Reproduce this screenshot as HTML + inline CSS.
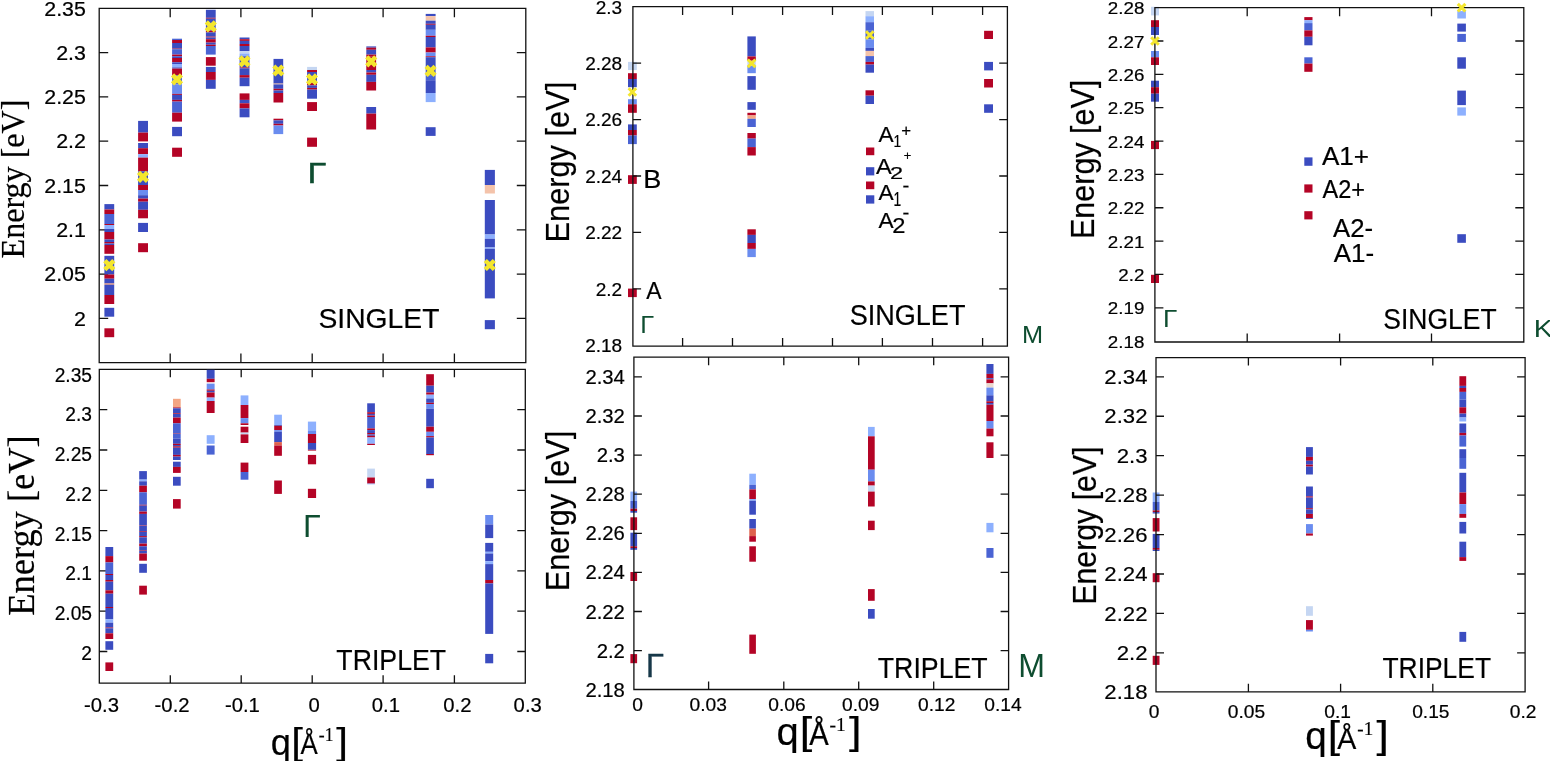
<!DOCTYPE html>
<html><head><meta charset="utf-8"><title>Singlet/Triplet exciton dispersion</title>
<style>html,body{margin:0;padding:0;background:#fff;}svg{display:block;}</style></head>
<body><svg width="1550" height="761" viewBox="0 0 1550 761" shape-rendering="auto">
<rect width="1550" height="761" fill="#fff"/>
<g stroke="#000" stroke-width="0.2">
<path d="M99.2,8.3H525.8V362.6H99.2ZM170.2,8.3v9M170.2,362.6v-9M240.9,8.3v9M240.9,362.6v-9M312.2,8.3v9M312.2,362.6v-9M383.1,8.3v9M383.1,362.6v-9M454.4,8.3v9M454.4,362.6v-9M99.2,52.6h9M525.8,52.6h-9M99.2,96.9h9M525.8,96.9h-9M99.2,141.2h9M525.8,141.2h-9M99.2,185.5h9M525.8,185.5h-9M99.2,229.8h9M525.8,229.8h-9M99.2,274.1h9M525.8,274.1h-9M99.2,318.4h9M525.8,318.4h-9" stroke="#111" stroke-width="1.3" fill="none"/>
<rect x="104.4" y="204.1" width="9.8" height="5.4" fill="#3b4cc0" stroke="none"/>
<rect x="104.4" y="209.5" width="9.8" height="4.5" fill="#b40426" stroke="none"/>
<rect x="104.4" y="214" width="9.8" height="10" fill="#4a63d3" stroke="none"/>
<rect x="104.4" y="224" width="9.8" height="1" fill="#b40426" stroke="none"/>
<rect x="104.4" y="225" width="9.8" height="4" fill="#8db0fe" stroke="none"/>
<rect x="104.4" y="229" width="9.8" height="3" fill="#3b4cc0" stroke="none"/>
<rect x="104.4" y="232" width="9.8" height="7.5" fill="#b40426" stroke="none"/>
<rect x="104.4" y="239.5" width="9.8" height="2.5" fill="#3b4cc0" stroke="none"/>
<rect x="104.4" y="242" width="9.8" height="1.5" fill="#b40426" stroke="none"/>
<rect x="104.4" y="243.5" width="9.8" height="1.5" fill="#3b4cc0" stroke="none"/>
<rect x="104.4" y="245" width="9.8" height="8.8" fill="#b40426" stroke="none"/>
<rect x="104.4" y="255.8" width="9.8" height="18.7" fill="#3b4cc0" stroke="none"/>
<rect x="104.4" y="274.5" width="9.8" height="4.2" fill="#b40426" stroke="none"/>
<rect x="104.4" y="278.7" width="9.8" height="4.8" fill="#3b4cc0" stroke="none"/>
<rect x="104.4" y="283.5" width="9.8" height="1.2" fill="#ef8a62" stroke="none"/>
<rect x="104.4" y="284.7" width="9.8" height="10.3" fill="#3b4cc0" stroke="none"/>
<rect x="104.4" y="295" width="9.8" height="9" fill="#b40426" stroke="none"/>
<rect x="104.4" y="307.8" width="9.8" height="8.9" fill="#3b4cc0" stroke="none"/>
<rect x="104.4" y="328.3" width="9.8" height="8.9" fill="#b40426" stroke="none"/>
<rect x="138.1" y="120.9" width="9.9" height="11.7" fill="#3b4cc0" stroke="none"/>
<rect x="138.1" y="132.6" width="9.9" height="8.8" fill="#b40426" stroke="none"/>
<rect x="138.1" y="143" width="9.9" height="5.2" fill="#3b4cc0" stroke="none"/>
<rect x="138.1" y="148.2" width="9.9" height="6" fill="#b40426" stroke="none"/>
<rect x="138.1" y="154.2" width="9.9" height="3.4" fill="#8db0fe" stroke="none"/>
<rect x="138.1" y="157.6" width="9.9" height="13.7" fill="#b40426" stroke="none"/>
<rect x="138.1" y="171.3" width="9.9" height="13.7" fill="#3b4cc0" stroke="none"/>
<rect x="138.1" y="185" width="9.9" height="5" fill="#b40426" stroke="none"/>
<rect x="138.1" y="190" width="9.9" height="5.2" fill="#6a8cef" stroke="none"/>
<rect x="138.1" y="195.2" width="9.9" height="3.4" fill="#3b4cc0" stroke="none"/>
<rect x="138.1" y="198.6" width="9.9" height="3.1" fill="#b40426" stroke="none"/>
<rect x="138.1" y="201.7" width="9.9" height="8.1" fill="#3b4cc0" stroke="none"/>
<rect x="138.1" y="209.8" width="9.9" height="8.5" fill="#b40426" stroke="none"/>
<rect x="138.1" y="222.9" width="9.9" height="9.1" fill="#3b4cc0" stroke="none"/>
<rect x="138.1" y="243.2" width="9.9" height="9" fill="#b40426" stroke="none"/>
<rect x="172.1" y="38.7" width="9.9" height="1.3" fill="#4a63d3" stroke="none"/>
<rect x="172.1" y="40" width="9.9" height="3" fill="#b40426" stroke="none"/>
<rect x="172.1" y="43" width="9.9" height="5.6" fill="#3b4cc0" stroke="none"/>
<rect x="172.1" y="48.6" width="9.9" height="0.6" fill="#b40426" stroke="none"/>
<rect x="172.1" y="49.2" width="9.9" height="5.4" fill="#4a63d3" stroke="none"/>
<rect x="172.1" y="54.6" width="9.9" height="1.7" fill="#b40426" stroke="none"/>
<rect x="172.1" y="56.3" width="9.9" height="1.7" fill="#3b4cc0" stroke="none"/>
<rect x="172.1" y="58" width="9.9" height="4.3" fill="#b40426" stroke="none"/>
<rect x="172.1" y="62.3" width="9.9" height="1.7" fill="#3b4cc0" stroke="none"/>
<rect x="172.1" y="64" width="9.9" height="3.4" fill="#8db0fe" stroke="none"/>
<rect x="172.1" y="67.4" width="9.9" height="1.2" fill="#3b4cc0" stroke="none"/>
<rect x="172.1" y="68.6" width="9.9" height="6.5" fill="#b40426" stroke="none"/>
<rect x="172.1" y="75.1" width="9.9" height="9.4" fill="#4a63d3" stroke="none"/>
<rect x="172.1" y="84.5" width="9.9" height="9.4" fill="#6a8cef" stroke="none"/>
<rect x="172.1" y="93.9" width="9.9" height="1" fill="#b40426" stroke="none"/>
<rect x="172.1" y="94.9" width="9.9" height="5" fill="#3b4cc0" stroke="none"/>
<rect x="172.1" y="99.9" width="9.9" height="1.7" fill="#b40426" stroke="none"/>
<rect x="172.1" y="101.6" width="9.9" height="11.1" fill="#4a63d3" stroke="none"/>
<rect x="172.1" y="112.7" width="9.9" height="8.9" fill="#b40426" stroke="none"/>
<rect x="172.1" y="126.9" width="9.9" height="9.3" fill="#3b4cc0" stroke="none"/>
<rect x="172.1" y="147.7" width="9.9" height="9.1" fill="#b40426" stroke="none"/>
<rect x="205.9" y="9.8" width="9.8" height="8" fill="#3b4cc0" stroke="none"/>
<rect x="205.9" y="17.8" width="9.8" height="0.9" fill="#b40426" stroke="none"/>
<rect x="205.9" y="18.7" width="9.8" height="11.9" fill="#3b4cc0" stroke="none"/>
<rect x="205.9" y="30.6" width="9.8" height="1.8" fill="#b40426" stroke="none"/>
<rect x="205.9" y="32.4" width="9.8" height="4.2" fill="#3b4cc0" stroke="none"/>
<rect x="205.9" y="36.6" width="9.8" height="0.9" fill="#b40426" stroke="none"/>
<rect x="205.9" y="37.5" width="9.8" height="1.7" fill="#3b4cc0" stroke="none"/>
<rect x="205.9" y="39.2" width="9.8" height="3.4" fill="#b40426" stroke="none"/>
<rect x="205.9" y="42.6" width="9.8" height="2.1" fill="#3b4cc0" stroke="none"/>
<rect x="205.9" y="44.7" width="9.8" height="1.3" fill="#b40426" stroke="none"/>
<rect x="205.9" y="46" width="9.8" height="8.6" fill="#4a63d3" stroke="none"/>
<rect x="205.9" y="57.1" width="9.8" height="8.6" fill="#b40426" stroke="none"/>
<rect x="205.9" y="66.9" width="9.8" height="5.1" fill="#3b4cc0" stroke="none"/>
<rect x="205.9" y="72" width="9.8" height="7.9" fill="#b40426" stroke="none"/>
<rect x="205.9" y="79.9" width="9.8" height="8.9" fill="#3b4cc0" stroke="none"/>
<rect x="239.6" y="37.5" width="9.9" height="1.7" fill="#3b4cc0" stroke="none"/>
<rect x="239.6" y="39.2" width="9.9" height="1.7" fill="#b40426" stroke="none"/>
<rect x="239.6" y="40.9" width="9.9" height="3.1" fill="#3b4cc0" stroke="none"/>
<rect x="239.6" y="44" width="9.9" height="2" fill="#b40426" stroke="none"/>
<rect x="239.6" y="46" width="9.9" height="5.2" fill="#3b4cc0" stroke="none"/>
<rect x="239.6" y="51.2" width="9.9" height="2.3" fill="#c5d6f2" stroke="none"/>
<rect x="239.6" y="53.5" width="9.9" height="2.8" fill="#8db0fe" stroke="none"/>
<rect x="239.6" y="56.3" width="9.9" height="11.1" fill="#3b4cc0" stroke="none"/>
<rect x="239.6" y="67.4" width="9.9" height="0.9" fill="#b40426" stroke="none"/>
<rect x="239.6" y="68.3" width="9.9" height="6.8" fill="#3b4cc0" stroke="none"/>
<rect x="239.6" y="75.1" width="9.9" height="2.6" fill="#b40426" stroke="none"/>
<rect x="239.6" y="77.7" width="9.9" height="8.5" fill="#3b4cc0" stroke="none"/>
<rect x="239.6" y="93.4" width="9.9" height="6.5" fill="#b40426" stroke="none"/>
<rect x="239.6" y="99.9" width="9.9" height="3.4" fill="#3b4cc0" stroke="none"/>
<rect x="239.6" y="103.3" width="9.9" height="5.1" fill="#b40426" stroke="none"/>
<rect x="239.6" y="108.4" width="9.9" height="8.9" fill="#3b4cc0" stroke="none"/>
<rect x="273.5" y="58.9" width="9.7" height="24.7" fill="#3b4cc0" stroke="none"/>
<rect x="273.5" y="83.6" width="9.7" height="0.8" fill="#f3a583" stroke="none"/>
<rect x="273.5" y="84.4" width="9.7" height="4.4" fill="#3b4cc0" stroke="none"/>
<rect x="273.5" y="88.8" width="9.7" height="1.7" fill="#b40426" stroke="none"/>
<rect x="273.5" y="90.5" width="9.7" height="2.5" fill="#3b4cc0" stroke="none"/>
<rect x="273.5" y="93" width="9.7" height="9.5" fill="#b40426" stroke="none"/>
<rect x="273.5" y="118.7" width="9.7" height="1.7" fill="#b40426" stroke="none"/>
<rect x="273.5" y="120.4" width="9.7" height="3.4" fill="#3b4cc0" stroke="none"/>
<rect x="273.5" y="123.8" width="9.7" height="1.7" fill="#b40426" stroke="none"/>
<rect x="273.5" y="125.5" width="9.7" height="8.6" fill="#6a8cef" stroke="none"/>
<rect x="307.1" y="66.9" width="9.9" height="3.1" fill="#c5d6f2" stroke="none"/>
<rect x="307.1" y="70" width="9.9" height="2" fill="#b40426" stroke="none"/>
<rect x="307.1" y="72" width="9.9" height="10.8" fill="#3b4cc0" stroke="none"/>
<rect x="307.1" y="82.8" width="9.9" height="2.6" fill="#b40426" stroke="none"/>
<rect x="307.1" y="85.4" width="9.9" height="2.5" fill="#3b4cc0" stroke="none"/>
<rect x="307.1" y="87.9" width="9.9" height="1.7" fill="#b40426" stroke="none"/>
<rect x="307.1" y="89.6" width="9.9" height="9.1" fill="#3b4cc0" stroke="none"/>
<rect x="307.1" y="102.1" width="9.9" height="8.9" fill="#b40426" stroke="none"/>
<rect x="307.1" y="137.6" width="9.9" height="9.2" fill="#b40426" stroke="none"/>
<rect x="366.3" y="46.4" width="9.8" height="1.3" fill="#3b4cc0" stroke="none"/>
<rect x="366.3" y="47.7" width="9.8" height="2.1" fill="#b40426" stroke="none"/>
<rect x="366.3" y="49.8" width="9.8" height="4.8" fill="#3b4cc0" stroke="none"/>
<rect x="366.3" y="54.6" width="9.8" height="1.7" fill="#b40426" stroke="none"/>
<rect x="366.3" y="56.3" width="9.8" height="13.7" fill="#b40426" stroke="none"/>
<rect x="366.3" y="70" width="9.8" height="2.5" fill="#3b4cc0" stroke="none"/>
<rect x="366.3" y="72.5" width="9.8" height="2.3" fill="#b40426" stroke="none"/>
<rect x="366.3" y="74.8" width="9.8" height="7.1" fill="#3b4cc0" stroke="none"/>
<rect x="366.3" y="81.9" width="9.8" height="8.6" fill="#b40426" stroke="none"/>
<rect x="366.3" y="107" width="9.8" height="6.6" fill="#3b4cc0" stroke="none"/>
<rect x="366.3" y="113.6" width="9.8" height="15.9" fill="#b40426" stroke="none"/>
<rect x="425.7" y="13.9" width="9.9" height="2.2" fill="#3b4cc0" stroke="none"/>
<rect x="425.7" y="16.1" width="9.9" height="4.6" fill="#f4c3aa" stroke="none"/>
<rect x="425.7" y="20.7" width="9.9" height="3.1" fill="#3b4cc0" stroke="none"/>
<rect x="425.7" y="23.8" width="9.9" height="1" fill="#b40426" stroke="none"/>
<rect x="425.7" y="24.8" width="9.9" height="5" fill="#3b4cc0" stroke="none"/>
<rect x="425.7" y="29.8" width="9.9" height="6" fill="#6a8cef" stroke="none"/>
<rect x="425.7" y="35.8" width="9.9" height="1.2" fill="#b40426" stroke="none"/>
<rect x="425.7" y="37" width="9.9" height="10.4" fill="#3b4cc0" stroke="none"/>
<rect x="425.7" y="47.4" width="9.9" height="5.1" fill="#b40426" stroke="none"/>
<rect x="425.7" y="52.5" width="9.9" height="3.8" fill="#6a8cef" stroke="none"/>
<rect x="425.7" y="56.3" width="9.9" height="0.9" fill="#b40426" stroke="none"/>
<rect x="425.7" y="57.2" width="9.9" height="18" fill="#3b4cc0" stroke="none"/>
<rect x="425.7" y="75.2" width="9.9" height="5" fill="#4a63d3" stroke="none"/>
<rect x="425.7" y="80.2" width="9.9" height="12.8" fill="#3b4cc0" stroke="none"/>
<rect x="425.7" y="93" width="9.9" height="9.1" fill="#8db0fe" stroke="none"/>
<rect x="425.7" y="127.2" width="9.9" height="8.7" fill="#3b4cc0" stroke="none"/>
<rect x="484.8" y="169.9" width="10.1" height="15.1" fill="#3b4cc0" stroke="none"/>
<rect x="484.8" y="185" width="10.1" height="8.5" fill="#f4c3aa" stroke="none"/>
<rect x="484.8" y="200" width="10.1" height="34.5" fill="#3b4cc0" stroke="none"/>
<rect x="484.8" y="234.5" width="10.1" height="4.3" fill="#8db0fe" stroke="none"/>
<rect x="484.8" y="238.8" width="10.1" height="8.7" fill="#3b4cc0" stroke="none"/>
<rect x="484.8" y="247.5" width="10.1" height="1.3" fill="#8db0fe" stroke="none"/>
<rect x="484.8" y="248.8" width="10.1" height="49.6" fill="#3b4cc0" stroke="none"/>
<rect x="484.8" y="320.1" width="10.1" height="9.1" fill="#3b4cc0" stroke="none"/>
<path d="M104.8,260.6L113.8,269.6M104.8,269.6L113.8,260.6" stroke="#f4e62e" stroke-width="4.5" fill="none"/>
<path d="M138.5,172.4L147.5,181.4M138.5,181.4L147.5,172.4" stroke="#f4e62e" stroke-width="4.5" fill="none"/>
<path d="M172.5,74.9L181.5,83.9M172.5,83.9L181.5,74.9" stroke="#f4e62e" stroke-width="4.5" fill="none"/>
<path d="M206.3,21.9L215.3,30.9M206.3,30.9L215.3,21.9" stroke="#f4e62e" stroke-width="4.5" fill="none"/>
<path d="M240,56.9L249,65.9M240,65.9L249,56.9" stroke="#f4e62e" stroke-width="4.5" fill="none"/>
<path d="M273.8,66L282.8,75M273.8,75L282.8,66" stroke="#f4e62e" stroke-width="4.5" fill="none"/>
<path d="M307.5,74.9L316.5,83.9M307.5,83.9L316.5,74.9" stroke="#f4e62e" stroke-width="4.5" fill="none"/>
<path d="M366.7,56.9L375.7,65.9M366.7,65.9L375.7,56.9" stroke="#f4e62e" stroke-width="4.5" fill="none"/>
<path d="M426.1,66.3L435.1,75.3M426.1,75.3L435.1,66.3" stroke="#f4e62e" stroke-width="4.5" fill="none"/>
<path d="M485.3,260.5L494.3,269.5M485.3,269.5L494.3,260.5" stroke="#f4e62e" stroke-width="4.5" fill="none"/>
<text transform="translate(44.29,15.51) scale(1.1000,1)" font-family='"Liberation Sans", Arial, sans-serif' font-size="19.44">2.35</text>
<text transform="translate(56.18,59.81) scale(1.1000,1)" font-family='"Liberation Sans", Arial, sans-serif' font-size="19.44">2.3</text>
<text transform="translate(44.29,104.11) scale(1.1000,1)" font-family='"Liberation Sans", Arial, sans-serif' font-size="19.44">2.25</text>
<text transform="translate(56.18,148.41) scale(1.1000,1)" font-family='"Liberation Sans", Arial, sans-serif' font-size="19.44">2.2</text>
<text transform="translate(44.29,192.71) scale(1.1000,1)" font-family='"Liberation Sans", Arial, sans-serif' font-size="19.44">2.15</text>
<text transform="translate(56.18,237.01) scale(1.1000,1)" font-family='"Liberation Sans", Arial, sans-serif' font-size="19.44">2.1</text>
<text transform="translate(44.29,281.31) scale(1.1000,1)" font-family='"Liberation Sans", Arial, sans-serif' font-size="19.44">2.05</text>
<text transform="translate(74.01,325.61) scale(1.1000,1)" font-family='"Liberation Sans", Arial, sans-serif' font-size="19.44">2</text>
<text transform="translate(318.43,327.72) scale(0.9948,1)" font-family='"Liberation Sans", Arial, sans-serif' font-size="28.45" fill="#000" >SINGLET</text>
<text transform="translate(307.55,183) scale(1.1516,1)" font-family='"Liberation Sans", Arial, sans-serif' font-size="29.86" fill="#0e4d30" stroke="#0e4d30" stroke-width="0.5">Γ</text>
<text transform="translate(23.6,258.46) rotate(-90) scale(0.9346,1)" font-family='"Liberation Serif", "Times New Roman", serif' font-size="34.35" fill="#000">Energy [eV]</text>
<path d="M99.3,369.3H525.3V683.2H99.3ZM170.3,369.3v8M170.3,683.2v-8M241.2,369.3v8M241.2,683.2v-8M312.2,369.3v8M312.2,683.2v-8M383.1,369.3v8M383.1,683.2v-8M454.4,369.3v8M454.4,683.2v-8M99.3,409.7h8M525.3,409.7h-8M99.3,450h8M525.3,450h-8M99.3,490.3h8M525.3,490.3h-8M99.3,530.6h8M525.3,530.6h-8M99.3,570.9h8M525.3,570.9h-8M99.3,611.2h8M525.3,611.2h-8M99.3,651.5h8M525.3,651.5h-8" stroke="#111" stroke-width="1.3" fill="none"/>
<rect x="105.4" y="547" width="7.8" height="9.1" fill="#3b4cc0" stroke="none"/>
<rect x="105.4" y="556.1" width="7.8" height="6.3" fill="#b40426" stroke="none"/>
<rect x="105.4" y="562.4" width="7.8" height="11.6" fill="#4a63d3" stroke="none"/>
<rect x="105.4" y="574" width="7.8" height="1" fill="#b40426" stroke="none"/>
<rect x="105.4" y="575" width="7.8" height="5" fill="#3b4cc0" stroke="none"/>
<rect x="105.4" y="580" width="7.8" height="1.7" fill="#b40426" stroke="none"/>
<rect x="105.4" y="581.7" width="7.8" height="8.6" fill="#3b4cc0" stroke="none"/>
<rect x="105.4" y="590.3" width="7.8" height="3.4" fill="#b40426" stroke="none"/>
<rect x="105.4" y="593.7" width="7.8" height="13.3" fill="#3b4cc0" stroke="none"/>
<rect x="105.4" y="607" width="7.8" height="1" fill="#b40426" stroke="none"/>
<rect x="105.4" y="608" width="7.8" height="11.3" fill="#3b4cc0" stroke="none"/>
<rect x="105.4" y="619.3" width="7.8" height="3.4" fill="#8db0fe" stroke="none"/>
<rect x="105.4" y="622.7" width="7.8" height="4.8" fill="#3b4cc0" stroke="none"/>
<rect x="105.4" y="627.5" width="7.8" height="0.8" fill="#b40426" stroke="none"/>
<rect x="105.4" y="628.3" width="7.8" height="5" fill="#3b4cc0" stroke="none"/>
<rect x="105.4" y="633.3" width="7.8" height="5.7" fill="#b40426" stroke="none"/>
<rect x="105.4" y="641.2" width="7.8" height="8.6" fill="#3b4cc0" stroke="none"/>
<rect x="105.4" y="662.4" width="7.8" height="8.6" fill="#b40426" stroke="none"/>
<rect x="139.2" y="471.1" width="7.7" height="8.5" fill="#3b4cc0" stroke="none"/>
<rect x="139.2" y="479.6" width="7.7" height="1.7" fill="#8db0fe" stroke="none"/>
<rect x="139.2" y="481.3" width="7.7" height="4.4" fill="#3b4cc0" stroke="none"/>
<rect x="139.2" y="485.7" width="7.7" height="6.6" fill="#b40426" stroke="none"/>
<rect x="139.2" y="492.3" width="7.7" height="12.5" fill="#4a63d3" stroke="none"/>
<rect x="139.2" y="504.8" width="7.7" height="0.8" fill="#b40426" stroke="none"/>
<rect x="139.2" y="505.6" width="7.7" height="6" fill="#3b4cc0" stroke="none"/>
<rect x="139.2" y="511.6" width="7.7" height="2.3" fill="#b40426" stroke="none"/>
<rect x="139.2" y="513.9" width="7.7" height="11.4" fill="#3b4cc0" stroke="none"/>
<rect x="139.2" y="525.3" width="7.7" height="0.5" fill="#b40426" stroke="none"/>
<rect x="139.2" y="525.8" width="7.7" height="5.2" fill="#3b4cc0" stroke="none"/>
<rect x="139.2" y="531" width="7.7" height="0.8" fill="#b40426" stroke="none"/>
<rect x="139.2" y="531.8" width="7.7" height="4.3" fill="#3b4cc0" stroke="none"/>
<rect x="139.2" y="536.1" width="7.7" height="1.2" fill="#b40426" stroke="none"/>
<rect x="139.2" y="537.3" width="7.7" height="6.3" fill="#3b4cc0" stroke="none"/>
<rect x="139.2" y="543.6" width="7.7" height="2.7" fill="#b40426" stroke="none"/>
<rect x="139.2" y="546.3" width="7.7" height="3.7" fill="#3b4cc0" stroke="none"/>
<rect x="139.2" y="550" width="7.7" height="0.7" fill="#b40426" stroke="none"/>
<rect x="139.2" y="550.7" width="7.7" height="2.8" fill="#3b4cc0" stroke="none"/>
<rect x="139.2" y="553.5" width="7.7" height="7.2" fill="#b40426" stroke="none"/>
<rect x="139.2" y="563.8" width="7.7" height="9" fill="#3b4cc0" stroke="none"/>
<rect x="139.2" y="585.7" width="7.7" height="8.9" fill="#b40426" stroke="none"/>
<rect x="173" y="398.8" width="7.7" height="8.6" fill="#f3a583" stroke="none"/>
<rect x="173" y="407.4" width="7.7" height="0.9" fill="#b40426" stroke="none"/>
<rect x="173" y="408.3" width="7.7" height="5" fill="#3b4cc0" stroke="none"/>
<rect x="173" y="413.3" width="7.7" height="0.7" fill="#b40426" stroke="none"/>
<rect x="173" y="414" width="7.7" height="3.6" fill="#3b4cc0" stroke="none"/>
<rect x="173" y="417.6" width="7.7" height="5.7" fill="#b40426" stroke="none"/>
<rect x="173" y="423.3" width="7.7" height="9.7" fill="#4a63d3" stroke="none"/>
<rect x="173" y="433" width="7.7" height="0.6" fill="#b40426" stroke="none"/>
<rect x="173" y="433.6" width="7.7" height="5.1" fill="#4a63d3" stroke="none"/>
<rect x="173" y="438.7" width="7.7" height="5.1" fill="#3b4cc0" stroke="none"/>
<rect x="173" y="443.8" width="7.7" height="1.2" fill="#b40426" stroke="none"/>
<rect x="173" y="445" width="7.7" height="1.3" fill="#3b4cc0" stroke="none"/>
<rect x="173" y="446.3" width="7.7" height="1.4" fill="#b40426" stroke="none"/>
<rect x="173" y="447.7" width="7.7" height="7.2" fill="#3b4cc0" stroke="none"/>
<rect x="173" y="454.9" width="7.7" height="1.7" fill="#b40426" stroke="none"/>
<rect x="173" y="456.6" width="7.7" height="3.4" fill="#3b4cc0" stroke="none"/>
<rect x="173" y="461.7" width="7.7" height="5.2" fill="#3b4cc0" stroke="none"/>
<rect x="173" y="466.9" width="7.7" height="6" fill="#b40426" stroke="none"/>
<rect x="173" y="476.8" width="7.7" height="8.9" fill="#3b4cc0" stroke="none"/>
<rect x="173" y="499.1" width="7.7" height="9.5" fill="#b40426" stroke="none"/>
<rect x="206.7" y="369.8" width="7.9" height="9" fill="#3b4cc0" stroke="none"/>
<rect x="206.7" y="378.8" width="7.9" height="3.4" fill="#b40426" stroke="none"/>
<rect x="206.7" y="383.6" width="7.9" height="5.9" fill="#6a8cef" stroke="none"/>
<rect x="206.7" y="389.5" width="7.9" height="1.3" fill="#b40426" stroke="none"/>
<rect x="206.7" y="390.8" width="7.9" height="1.7" fill="#3b4cc0" stroke="none"/>
<rect x="206.7" y="392.5" width="7.9" height="5.1" fill="#b40426" stroke="none"/>
<rect x="206.7" y="397.6" width="7.9" height="3.4" fill="#8db0fe" stroke="none"/>
<rect x="206.7" y="401" width="7.9" height="12" fill="#b40426" stroke="none"/>
<rect x="206.7" y="435.2" width="7.9" height="8.6" fill="#8db0fe" stroke="none"/>
<rect x="206.7" y="445.5" width="7.9" height="9.1" fill="#4a63d3" stroke="none"/>
<rect x="240.6" y="395.4" width="7.8" height="9.6" fill="#8db0fe" stroke="none"/>
<rect x="240.6" y="405" width="7.8" height="13.1" fill="#b40426" stroke="none"/>
<rect x="240.6" y="418.1" width="7.8" height="5.2" fill="#6a8cef" stroke="none"/>
<rect x="240.6" y="423.3" width="7.8" height="1.7" fill="#b40426" stroke="none"/>
<rect x="240.6" y="426.7" width="7.8" height="5.9" fill="#b40426" stroke="none"/>
<rect x="240.6" y="432.6" width="7.8" height="1.8" fill="#c5d6f2" stroke="none"/>
<rect x="240.6" y="434.4" width="7.8" height="8.6" fill="#b40426" stroke="none"/>
<rect x="240.6" y="462.6" width="7.8" height="9.4" fill="#b40426" stroke="none"/>
<rect x="240.6" y="472" width="7.8" height="7.7" fill="#4a63d3" stroke="none"/>
<rect x="274.2" y="414.7" width="7.7" height="10.3" fill="#8db0fe" stroke="none"/>
<rect x="274.2" y="425" width="7.7" height="0.8" fill="#3b4cc0" stroke="none"/>
<rect x="274.2" y="425.8" width="7.7" height="4.3" fill="#b40426" stroke="none"/>
<rect x="274.2" y="430.1" width="7.7" height="1.7" fill="#6a8cef" stroke="none"/>
<rect x="274.2" y="431.8" width="7.7" height="10.3" fill="#3b4cc0" stroke="none"/>
<rect x="274.2" y="442.1" width="7.7" height="3.4" fill="#de614d" stroke="none"/>
<rect x="274.2" y="445.5" width="7.7" height="10.3" fill="#b40426" stroke="none"/>
<rect x="274.2" y="480.5" width="7.7" height="13.4" fill="#b40426" stroke="none"/>
<rect x="307.9" y="421.6" width="8.2" height="9.4" fill="#8db0fe" stroke="none"/>
<rect x="307.9" y="431" width="8.2" height="3" fill="#6a8cef" stroke="none"/>
<rect x="307.9" y="434" width="8.2" height="9" fill="#b40426" stroke="none"/>
<rect x="307.9" y="443" width="8.2" height="6.8" fill="#3b4cc0" stroke="none"/>
<rect x="307.9" y="449.8" width="8.2" height="0.8" fill="#b40426" stroke="none"/>
<rect x="307.9" y="454.9" width="8.2" height="9.4" fill="#b40426" stroke="none"/>
<rect x="307.9" y="488.8" width="8.2" height="9.2" fill="#b40426" stroke="none"/>
<rect x="367.2" y="403.3" width="7.7" height="8.9" fill="#3b4cc0" stroke="none"/>
<rect x="367.2" y="412.2" width="7.7" height="1.7" fill="#b40426" stroke="none"/>
<rect x="367.2" y="413.9" width="7.7" height="1.7" fill="#3b4cc0" stroke="none"/>
<rect x="367.2" y="415.6" width="7.7" height="1.4" fill="#b40426" stroke="none"/>
<rect x="367.2" y="417" width="7.7" height="11.4" fill="#4a63d3" stroke="none"/>
<rect x="367.2" y="428.4" width="7.7" height="1.7" fill="#b40426" stroke="none"/>
<rect x="367.2" y="430.1" width="7.7" height="2.9" fill="#3b4cc0" stroke="none"/>
<rect x="367.2" y="433" width="7.7" height="1.4" fill="#b40426" stroke="none"/>
<rect x="367.2" y="434.4" width="7.7" height="1.4" fill="#3b4cc0" stroke="none"/>
<rect x="367.2" y="435.8" width="7.7" height="1.7" fill="#b40426" stroke="none"/>
<rect x="367.2" y="437.5" width="7.7" height="6.3" fill="#8db0fe" stroke="none"/>
<rect x="367.2" y="443.8" width="7.7" height="1.2" fill="#b40426" stroke="none"/>
<rect x="367.2" y="468.6" width="7.7" height="8.9" fill="#c5d6f2" stroke="none"/>
<rect x="367.2" y="477.5" width="7.7" height="6.1" fill="#b40426" stroke="none"/>
<rect x="367.2" y="483.6" width="7.7" height="0.7" fill="#8db0fe" stroke="none"/>
<rect x="426.2" y="374.2" width="7.7" height="11.5" fill="#b40426" stroke="none"/>
<rect x="426.2" y="385.7" width="7.7" height="6.8" fill="#3b4cc0" stroke="none"/>
<rect x="426.2" y="392.5" width="7.7" height="2.2" fill="#b40426" stroke="none"/>
<rect x="426.2" y="394.7" width="7.7" height="3.8" fill="#8db0fe" stroke="none"/>
<rect x="426.2" y="398.5" width="7.7" height="4.3" fill="#3b4cc0" stroke="none"/>
<rect x="426.2" y="402.8" width="7.7" height="1.2" fill="#b40426" stroke="none"/>
<rect x="426.2" y="404" width="7.7" height="4.7" fill="#6a8cef" stroke="none"/>
<rect x="426.2" y="408.7" width="7.7" height="18" fill="#3b4cc0" stroke="none"/>
<rect x="426.2" y="426.7" width="7.7" height="5.1" fill="#b40426" stroke="none"/>
<rect x="426.2" y="431.8" width="7.7" height="4.3" fill="#6a8cef" stroke="none"/>
<rect x="426.2" y="436.1" width="7.7" height="1.4" fill="#b40426" stroke="none"/>
<rect x="426.2" y="437.5" width="7.7" height="16.5" fill="#3b4cc0" stroke="none"/>
<rect x="426.2" y="454" width="7.7" height="1.2" fill="#b40426" stroke="none"/>
<rect x="426.2" y="478.8" width="7.7" height="9.4" fill="#3b4cc0" stroke="none"/>
<rect x="485.2" y="515" width="8" height="9.5" fill="#6a8cef" stroke="none"/>
<rect x="485.2" y="524.5" width="8" height="13.6" fill="#3b4cc0" stroke="none"/>
<rect x="485.2" y="542.9" width="8" height="8.9" fill="#3b4cc0" stroke="none"/>
<rect x="485.2" y="551.8" width="8" height="1.7" fill="#8db0fe" stroke="none"/>
<rect x="485.2" y="553.5" width="8" height="7.7" fill="#3b4cc0" stroke="none"/>
<rect x="485.2" y="561.2" width="8" height="2.9" fill="#8db0fe" stroke="none"/>
<rect x="485.2" y="564.1" width="8" height="15.9" fill="#3b4cc0" stroke="none"/>
<rect x="485.2" y="580" width="8" height="3.4" fill="#b40426" stroke="none"/>
<rect x="485.2" y="583.4" width="8" height="50.5" fill="#3b4cc0" stroke="none"/>
<rect x="485.2" y="653.9" width="8" height="9.4" fill="#3b4cc0" stroke="none"/>
<text transform="translate(54.66,381.55) scale(0.9800,1)" font-family='"Liberation Sans", Arial, sans-serif' font-size="19.58">2.35</text>
<text transform="translate(65.33,421.3) scale(0.9800,1)" font-family='"Liberation Sans", Arial, sans-serif' font-size="19.58">2.3</text>
<text transform="translate(54.66,461.05) scale(0.9800,1)" font-family='"Liberation Sans", Arial, sans-serif' font-size="19.58">2.25</text>
<text transform="translate(65.33,500.8) scale(0.9800,1)" font-family='"Liberation Sans", Arial, sans-serif' font-size="19.58">2.2</text>
<text transform="translate(54.66,540.55) scale(0.9800,1)" font-family='"Liberation Sans", Arial, sans-serif' font-size="19.58">2.15</text>
<text transform="translate(65.33,580.3) scale(0.9800,1)" font-family='"Liberation Sans", Arial, sans-serif' font-size="19.58">2.1</text>
<text transform="translate(54.66,620.05) scale(0.9800,1)" font-family='"Liberation Sans", Arial, sans-serif' font-size="19.58">2.05</text>
<text transform="translate(81.33,659.8) scale(0.9800,1)" font-family='"Liberation Sans", Arial, sans-serif' font-size="19.58">2</text>
<text transform="translate(84,712) scale(1.0000,1)" font-family='"Liberation Sans", Arial, sans-serif' font-size="20.29">-0.3</text>
<text transform="translate(154.61,712) scale(1.0000,1)" font-family='"Liberation Sans", Arial, sans-serif' font-size="20.29">-0.2</text>
<text transform="translate(224.95,712) scale(1.0000,1)" font-family='"Liberation Sans", Arial, sans-serif' font-size="20.29">-0.1</text>
<text transform="translate(308.52,712) scale(1.0000,1)" font-family='"Liberation Sans", Arial, sans-serif' font-size="20.29">0</text>
<text transform="translate(371.75,712) scale(1.0000,1)" font-family='"Liberation Sans", Arial, sans-serif' font-size="20.29">0.1</text>
<text transform="translate(443.3,712) scale(1.0000,1)" font-family='"Liberation Sans", Arial, sans-serif' font-size="20.29">0.2</text>
<text transform="translate(513.6,712) scale(1.0000,1)" font-family='"Liberation Sans", Arial, sans-serif' font-size="20.29">0.3</text>
<text transform="translate(336.37,669.8) scale(0.9206,1)" font-family='"Liberation Sans", Arial, sans-serif' font-size="28.99" fill="#000" >TRIPLET</text>
<text transform="translate(302.91,537) scale(1.0289,1)" font-family='"Liberation Sans", Arial, sans-serif' font-size="31.45" fill="#0e4d30"  stroke="none">Γ</text>
<text transform="translate(34.1,615.69) rotate(-90) scale(0.9584,1)" font-family='"Liberation Serif", "Times New Roman", serif' font-size="38.02" fill="#000">Energy [eV]</text>
<rect x="628" y="61.9" width="8.8" height="8.2" fill="#c5d6f2" stroke="none"/>
<rect x="628" y="73.2" width="8.8" height="5.8" fill="#b40426" stroke="none"/>
<rect x="628" y="79" width="8.8" height="8.2" fill="#3b4cc0" stroke="none"/>
<rect x="628" y="99.2" width="8.8" height="5.1" fill="#6a8cef" stroke="none"/>
<rect x="628" y="104.3" width="8.8" height="8.5" fill="#b40426" stroke="none"/>
<rect x="628" y="124.4" width="8.8" height="5.6" fill="#3b4cc0" stroke="none"/>
<rect x="628" y="130" width="8.8" height="5.5" fill="#b40426" stroke="none"/>
<rect x="628" y="135.5" width="8.8" height="8.6" fill="#4a63d3" stroke="none"/>
<rect x="628" y="175.2" width="8.8" height="8.7" fill="#b40426" stroke="none"/>
<rect x="628" y="288.6" width="8.8" height="8.5" fill="#b40426" stroke="none"/>
<rect x="747.4" y="36.4" width="8.4" height="20" fill="#3b4cc0" stroke="none"/>
<rect x="747.4" y="56.4" width="8.4" height="4.4" fill="#b40426" stroke="none"/>
<rect x="747.4" y="60.8" width="8.4" height="5.2" fill="#c5d6f2" stroke="none"/>
<rect x="747.4" y="66" width="8.4" height="7.2" fill="#6a8cef" stroke="none"/>
<rect x="747.4" y="76.1" width="8.4" height="13.7" fill="#3b4cc0" stroke="none"/>
<rect x="747.4" y="102.1" width="8.4" height="7.7" fill="#3b4cc0" stroke="none"/>
<rect x="747.4" y="112.8" width="8.4" height="2.6" fill="#b40426" stroke="none"/>
<rect x="747.4" y="115.4" width="8.4" height="3.4" fill="#f3a583" stroke="none"/>
<rect x="747.4" y="118.8" width="8.4" height="8.2" fill="#4a63d3" stroke="none"/>
<rect x="747.4" y="133" width="8.4" height="5.6" fill="#b40426" stroke="none"/>
<rect x="747.4" y="138.6" width="8.4" height="8.5" fill="#4a63d3" stroke="none"/>
<rect x="747.4" y="147.1" width="8.4" height="8.4" fill="#b40426" stroke="none"/>
<rect x="747.4" y="229.3" width="8.4" height="5.6" fill="#b40426" stroke="none"/>
<rect x="747.4" y="234.9" width="8.4" height="8.1" fill="#3b4cc0" stroke="none"/>
<rect x="747.4" y="243" width="8.4" height="5.9" fill="#b40426" stroke="none"/>
<rect x="747.4" y="248.9" width="8.4" height="8.2" fill="#6a8cef" stroke="none"/>
<rect x="865.5" y="11.1" width="8.5" height="5.1" fill="#c5d6f2" stroke="none"/>
<rect x="865.5" y="16.2" width="8.5" height="6" fill="#8db0fe" stroke="none"/>
<rect x="865.5" y="22.2" width="8.5" height="8.6" fill="#4a63d3" stroke="none"/>
<rect x="865.5" y="30.8" width="8.5" height="8.5" fill="#4a63d3" stroke="none"/>
<rect x="865.5" y="39.3" width="8.5" height="8.6" fill="#6a8cef" stroke="none"/>
<rect x="865.5" y="47.9" width="8.5" height="3" fill="#3b4cc0" stroke="none"/>
<rect x="865.5" y="50.9" width="8.5" height="5.2" fill="#f4c3aa" stroke="none"/>
<rect x="865.5" y="56.1" width="8.5" height="5.8" fill="#4a63d3" stroke="none"/>
<rect x="865.5" y="61.9" width="8.5" height="2.7" fill="#b40426" stroke="none"/>
<rect x="865.5" y="64.6" width="8.5" height="8.1" fill="#3b4cc0" stroke="none"/>
<rect x="865.5" y="90.3" width="8.5" height="5.4" fill="#b40426" stroke="none"/>
<rect x="865.5" y="95.7" width="8.5" height="8.3" fill="#3b4cc0" stroke="none"/>
<rect x="984.1" y="30.8" width="8.9" height="8.2" fill="#b40426" stroke="none"/>
<rect x="984.1" y="61.9" width="8.9" height="8.5" fill="#3b4cc0" stroke="none"/>
<rect x="984.1" y="79" width="8.9" height="8.5" fill="#b40426" stroke="none"/>
<rect x="984.1" y="104.3" width="8.9" height="8.5" fill="#3b4cc0" stroke="none"/>
<rect x="866" y="147.5" width="8.3" height="7.7" fill="#b40426" stroke="none"/>
<rect x="866" y="167.2" width="8.3" height="8.2" fill="#3b4cc0" stroke="none"/>
<rect x="866" y="181.5" width="8.3" height="7.7" fill="#b40426" stroke="none"/>
<rect x="866" y="195.3" width="8.3" height="8.3" fill="#3b4cc0" stroke="none"/>
<path d="M632.9,6.7H1007.4V346.2H632.9ZM682.6,6.7v8.2M682.6,346.2v-8.2M732.5,6.7v8.2M732.5,346.2v-8.2M782.6,6.7v8.2M782.6,346.2v-8.2M832.5,6.7v8.2M832.5,346.2v-8.2M882.4,6.7v8.2M882.4,346.2v-8.2M932.5,6.7v8.2M932.5,346.2v-8.2M982.6,6.7v8.2M982.6,346.2v-8.2M632.9,63.2h8.2M1007.4,63.2h-8.2M632.9,119.6h8.2M1007.4,119.6h-8.2M632.9,176h8.2M1007.4,176h-8.2M632.9,232.4h8.2M1007.4,232.4h-8.2M632.9,288.8h8.2M1007.4,288.8h-8.2" stroke="#111" stroke-width="1.3" fill="none"/>
<path d="M628.6,88.2L636.2,95.8M628.6,95.8L636.2,88.2" stroke="#f4e62e" stroke-width="3.0" fill="none"/>
<path d="M747.8,59.5L755.4,67.1M747.8,67.1L755.4,59.5" stroke="#f4e62e" stroke-width="3.0" fill="none"/>
<path d="M866,31.2L873.6,38.8M866,38.8L873.6,31.2" stroke="#f4e62e" stroke-width="3.0" fill="none"/>
<text transform="translate(595.74,13.63) scale(1.0900,1)" font-family='"Liberation Sans", Arial, sans-serif' font-size="17.46">2.3</text>
<text transform="translate(585.15,70.03) scale(1.0900,1)" font-family='"Liberation Sans", Arial, sans-serif' font-size="17.46">2.28</text>
<text transform="translate(585.15,126.43) scale(1.0900,1)" font-family='"Liberation Sans", Arial, sans-serif' font-size="17.46">2.26</text>
<text transform="translate(585.15,182.83) scale(1.0900,1)" font-family='"Liberation Sans", Arial, sans-serif' font-size="17.46">2.24</text>
<text transform="translate(585.15,239.23) scale(1.0900,1)" font-family='"Liberation Sans", Arial, sans-serif' font-size="17.46">2.22</text>
<text transform="translate(595.74,295.63) scale(1.0900,1)" font-family='"Liberation Sans", Arial, sans-serif' font-size="17.46">2.2</text>
<text transform="translate(585.15,352.03) scale(1.0900,1)" font-family='"Liberation Sans", Arial, sans-serif' font-size="17.46">2.18</text>
<text transform="translate(849.68,324.71) scale(0.9240,1)" font-family='"Liberation Sans", Arial, sans-serif' font-size="29.30" fill="#000" >SINGLET</text>
<text transform="translate(640.17,333) scale(1.0816,1)" font-family='"Liberation Sans", Arial, sans-serif' font-size="23.48" fill="#0e4d30"  stroke="none">Γ</text>
<text transform="translate(1021.97,343) scale(1.0421,1)" font-family='"Liberation Sans", Arial, sans-serif' font-size="24.35" fill="#0e4d30"  stroke="none">M</text>
<text transform="translate(643.13,188) scale(1.0748,1)" font-family='"Liberation Sans", Arial, sans-serif' font-size="25.22" fill="#000" >B</text>
<text transform="translate(646.2,298.9) scale(0.9284,1)" font-family='"Liberation Sans", Arial, sans-serif' font-size="24.78" fill="#000" >A</text>
<text transform="translate(569,242.46) rotate(-90) scale(0.9191,1)" font-family='"Liberation Sans", Arial, sans-serif' font-size="33.48" fill="#000">Energy [eV]</text>
<text transform="translate(878.5,142) scale(1.0240,1)" font-family='"Liberation Sans", Arial, sans-serif' font-size="22.17" fill="#000" >A</text>
<text transform="translate(893.47,146.9) scale(0.7998,1)" font-family='"Liberation Sans", Arial, sans-serif' font-size="17.25" fill="#000" >1</text>
<text transform="translate(901.15,135.51) scale(1.0103,1)" font-family='"Liberation Sans", Arial, sans-serif' font-size="16.73" fill="#000" >+</text>
<text transform="translate(876.1,173.6) scale(1.0442,1)" font-family='"Liberation Sans", Arial, sans-serif' font-size="22.61" fill="#000" >A</text>
<text transform="translate(890.02,179.1) scale(1.3833,1)" font-family='"Liberation Sans", Arial, sans-serif' font-size="17.00" fill="#000" >2</text>
<text transform="translate(903.66,159.62) scale(1.0269,1)" font-family='"Liberation Sans", Arial, sans-serif' font-size="12.45" fill="#000" >+</text>
<text transform="translate(878.5,200.3) scale(0.9979,1)" font-family='"Liberation Sans", Arial, sans-serif' font-size="22.75" fill="#000" >A</text>
<text transform="translate(893.47,205.8) scale(0.6897,1)" font-family='"Liberation Sans", Arial, sans-serif' font-size="20.00" fill="#000" >1</text>
<text transform="translate(902.58,191.52) scale(1.0884,1)" font-family='"Liberation Sans", Arial, sans-serif' font-size="18.75" fill="#000" >-</text>
<text transform="translate(878.5,227.9) scale(0.9979,1)" font-family='"Liberation Sans", Arial, sans-serif' font-size="22.75" fill="#000" >A</text>
<text transform="translate(892.31,233.4) scale(1.0651,1)" font-family='"Liberation Sans", Arial, sans-serif' font-size="22.29" fill="#000" >2</text>
<text transform="translate(902.58,219.02) scale(1.0884,1)" font-family='"Liberation Sans", Arial, sans-serif' font-size="18.75" fill="#000" >-</text>
<rect x="630.4" y="491.6" width="6.7" height="9.4" fill="#8db0fe" stroke="none"/>
<rect x="630.4" y="501" width="6.7" height="7.7" fill="#4a63d3" stroke="none"/>
<rect x="630.4" y="508.7" width="6.7" height="2.3" fill="#b40426" stroke="none"/>
<rect x="630.4" y="511" width="6.7" height="1.7" fill="#3b4cc0" stroke="none"/>
<rect x="630.4" y="517.3" width="6.7" height="12.8" fill="#b40426" stroke="none"/>
<rect x="630.4" y="532.7" width="6.7" height="13.6" fill="#3b4cc0" stroke="none"/>
<rect x="630.4" y="546.3" width="6.7" height="1.7" fill="#b40426" stroke="none"/>
<rect x="630.4" y="548" width="6.7" height="1.8" fill="#3b4cc0" stroke="none"/>
<rect x="630.4" y="572" width="6.7" height="9" fill="#b40426" stroke="none"/>
<rect x="630.4" y="654.1" width="6.7" height="9.1" fill="#b40426" stroke="none"/>
<rect x="749.3" y="473.7" width="6.6" height="11.1" fill="#8db0fe" stroke="none"/>
<rect x="749.3" y="484.8" width="6.6" height="4.6" fill="#4a63d3" stroke="none"/>
<rect x="749.3" y="489.4" width="6.6" height="9.6" fill="#b40426" stroke="none"/>
<rect x="749.3" y="499" width="6.6" height="1.7" fill="#8db0fe" stroke="none"/>
<rect x="749.3" y="500.7" width="6.6" height="14" fill="#3b4cc0" stroke="none"/>
<rect x="749.3" y="519" width="6.6" height="9.7" fill="#3b4cc0" stroke="none"/>
<rect x="749.3" y="528.7" width="6.6" height="7.4" fill="#de614d" stroke="none"/>
<rect x="749.3" y="536.1" width="6.6" height="5.6" fill="#b40426" stroke="none"/>
<rect x="749.3" y="546.3" width="6.6" height="15.4" fill="#b40426" stroke="none"/>
<rect x="749.3" y="634.6" width="6.6" height="19.2" fill="#b40426" stroke="none"/>
<rect x="868" y="426.9" width="6.7" height="9.4" fill="#8db0fe" stroke="none"/>
<rect x="868" y="436.3" width="6.7" height="33.4" fill="#b40426" stroke="none"/>
<rect x="868" y="469.7" width="6.7" height="11.7" fill="#6a8cef" stroke="none"/>
<rect x="868" y="481.4" width="6.7" height="4.2" fill="#b40426" stroke="none"/>
<rect x="868" y="485.6" width="6.7" height="6" fill="#c5d6f2" stroke="none"/>
<rect x="868" y="491.6" width="6.7" height="14.9" fill="#b40426" stroke="none"/>
<rect x="868" y="520.7" width="6.7" height="9.4" fill="#b40426" stroke="none"/>
<rect x="868" y="589.1" width="6.7" height="11.7" fill="#b40426" stroke="none"/>
<rect x="868" y="609" width="6.7" height="9.7" fill="#3b4cc0" stroke="none"/>
<rect x="986.4" y="364" width="7.1" height="9.9" fill="#3b4cc0" stroke="none"/>
<rect x="986.4" y="373.9" width="7.1" height="4.3" fill="#b40426" stroke="none"/>
<rect x="986.4" y="378.2" width="7.1" height="1.2" fill="#3b4cc0" stroke="none"/>
<rect x="986.4" y="379.4" width="7.1" height="3.9" fill="#b40426" stroke="none"/>
<rect x="986.4" y="383.3" width="7.1" height="4.3" fill="#ead8cd" stroke="none"/>
<rect x="986.4" y="387.6" width="7.1" height="7.7" fill="#6a8cef" stroke="none"/>
<rect x="986.4" y="395.3" width="7.1" height="6" fill="#3b4cc0" stroke="none"/>
<rect x="986.4" y="401.3" width="7.1" height="1.7" fill="#b40426" stroke="none"/>
<rect x="986.4" y="403" width="7.1" height="1.7" fill="#3b4cc0" stroke="none"/>
<rect x="986.4" y="404.7" width="7.1" height="16.3" fill="#b40426" stroke="none"/>
<rect x="986.4" y="421" width="7.1" height="7.6" fill="#6a8cef" stroke="none"/>
<rect x="986.4" y="428.6" width="7.1" height="7.7" fill="#b40426" stroke="none"/>
<rect x="986.4" y="442.3" width="7.1" height="15.7" fill="#b40426" stroke="none"/>
<rect x="986.4" y="522.9" width="7.1" height="9.4" fill="#8db0fe" stroke="none"/>
<rect x="986.4" y="548" width="7.1" height="9.8" fill="#4a63d3" stroke="none"/>
<path d="M633.9,357.2H1008.6V689.5H633.9ZM708.6,357.2v8M708.6,689.5v-8M783.8,357.2v8M783.8,689.5v-8M858.7,357.2v8M858.7,689.5v-8M933.7,357.2v8M933.7,689.5v-8M633.9,376.9h8M1008.6,376.9h-8M633.9,416h8M1008.6,416h-8M633.9,455.1h8M1008.6,455.1h-8M633.9,494.2h8M1008.6,494.2h-8M633.9,533.3h8M1008.6,533.3h-8M633.9,572.4h8M1008.6,572.4h-8M633.9,611.5h8M1008.6,611.5h-8M633.9,650.6h8M1008.6,650.6h-8" stroke="#111" stroke-width="1.3" fill="none"/>
<text transform="translate(585.43,383.9) scale(1.0000,1)" font-family='"Liberation Sans", Arial, sans-serif' font-size="20.28">2.34</text>
<text transform="translate(585.43,423) scale(1.0000,1)" font-family='"Liberation Sans", Arial, sans-serif' font-size="20.28">2.32</text>
<text transform="translate(596.71,462.1) scale(1.0000,1)" font-family='"Liberation Sans", Arial, sans-serif' font-size="20.28">2.3</text>
<text transform="translate(585.43,501.2) scale(1.0000,1)" font-family='"Liberation Sans", Arial, sans-serif' font-size="20.28">2.28</text>
<text transform="translate(585.43,540.3) scale(1.0000,1)" font-family='"Liberation Sans", Arial, sans-serif' font-size="20.28">2.26</text>
<text transform="translate(585.43,579.4) scale(1.0000,1)" font-family='"Liberation Sans", Arial, sans-serif' font-size="20.28">2.24</text>
<text transform="translate(585.43,618.5) scale(1.0000,1)" font-family='"Liberation Sans", Arial, sans-serif' font-size="20.28">2.22</text>
<text transform="translate(596.71,657.6) scale(1.0000,1)" font-family='"Liberation Sans", Arial, sans-serif' font-size="20.28">2.2</text>
<text transform="translate(585.43,696.7) scale(1.0000,1)" font-family='"Liberation Sans", Arial, sans-serif' font-size="20.28">2.18</text>
<text transform="translate(632.13,710.7) scale(1.1000,1)" font-family='"Liberation Sans", Arial, sans-serif' font-size="17.43">0</text>
<text transform="translate(689.56,710.7) scale(1.1000,1)" font-family='"Liberation Sans", Arial, sans-serif' font-size="17.43">0.03</text>
<text transform="translate(768.36,710.7) scale(1.1000,1)" font-family='"Liberation Sans", Arial, sans-serif' font-size="17.43">0.06</text>
<text transform="translate(842.1,710.7) scale(1.1000,1)" font-family='"Liberation Sans", Arial, sans-serif' font-size="17.43">0.09</text>
<text transform="translate(918.05,710.7) scale(1.1000,1)" font-family='"Liberation Sans", Arial, sans-serif' font-size="17.43">0.12</text>
<text transform="translate(984.26,710.7) scale(1.1000,1)" font-family='"Liberation Sans", Arial, sans-serif' font-size="17.43">0.14</text>
<text transform="translate(877.76,678) scale(0.9231,1)" font-family='"Liberation Sans", Arial, sans-serif' font-size="28.99" fill="#000" >TRIPLET</text>
<text transform="translate(645.84,677) scale(1.0109,1)" font-family='"Liberation Sans", Arial, sans-serif' font-size="32.90" fill="#173849" stroke="#173849" stroke-width="0.3">Γ</text>
<text transform="translate(1018.33,677.4) scale(0.9503,1)" font-family='"Liberation Sans", Arial, sans-serif' font-size="33.77" fill="#0e4d30"  stroke="none">M</text>
<text transform="translate(568.6,591.36) rotate(-90) scale(0.9157,1)" font-family='"Liberation Sans", Arial, sans-serif' font-size="33.62" fill="#000">Energy [eV]</text>
<rect x="1151" y="6.8" width="8" height="8.6" fill="#c5d6f2" stroke="none"/>
<rect x="1151" y="20.2" width="8" height="6.8" fill="#b40426" stroke="none"/>
<rect x="1151" y="27" width="8" height="8" fill="#3b4cc0" stroke="none"/>
<rect x="1151" y="51" width="8" height="6.3" fill="#6a8cef" stroke="none"/>
<rect x="1151" y="57.3" width="8" height="7.7" fill="#b40426" stroke="none"/>
<rect x="1151" y="80.7" width="8" height="6.5" fill="#3b4cc0" stroke="none"/>
<rect x="1151" y="87.2" width="8" height="6.5" fill="#b40426" stroke="none"/>
<rect x="1151" y="93.7" width="8" height="8" fill="#3b4cc0" stroke="none"/>
<rect x="1151" y="140.9" width="8" height="8.2" fill="#b40426" stroke="none"/>
<rect x="1151" y="274.8" width="8" height="8.2" fill="#b40426" stroke="none"/>
<rect x="1304.3" y="17.1" width="8.2" height="3.1" fill="#b40426" stroke="none"/>
<rect x="1304.3" y="20.2" width="8.2" height="2.9" fill="#8db0fe" stroke="none"/>
<rect x="1304.3" y="23.1" width="8.2" height="7.3" fill="#4a63d3" stroke="none"/>
<rect x="1304.3" y="30.4" width="8.2" height="6.4" fill="#b40426" stroke="none"/>
<rect x="1304.3" y="36.8" width="8.2" height="8.5" fill="#3b4cc0" stroke="none"/>
<rect x="1304.3" y="57.3" width="8.2" height="6.3" fill="#4a63d3" stroke="none"/>
<rect x="1304.3" y="63.6" width="8.2" height="8.2" fill="#b40426" stroke="none"/>
<rect x="1304.3" y="157.4" width="8.2" height="8.4" fill="#3b4cc0" stroke="none"/>
<rect x="1304.3" y="184.4" width="8.2" height="8.2" fill="#b40426" stroke="none"/>
<rect x="1304.3" y="211.2" width="8.2" height="8.2" fill="#b40426" stroke="none"/>
<rect x="1457.3" y="11.1" width="8.6" height="7.4" fill="#8db0fe" stroke="none"/>
<rect x="1457.3" y="23.6" width="8.6" height="8" fill="#3b4cc0" stroke="none"/>
<rect x="1457.3" y="33.9" width="8.6" height="8" fill="#4a63d3" stroke="none"/>
<rect x="1457.3" y="57.3" width="8.6" height="11.4" fill="#3b4cc0" stroke="none"/>
<rect x="1457.3" y="90.6" width="8.6" height="14.5" fill="#3b4cc0" stroke="none"/>
<rect x="1457.3" y="107.4" width="8.6" height="8.2" fill="#8db0fe" stroke="none"/>
<rect x="1457.3" y="234.2" width="8.6" height="8.6" fill="#3b4cc0" stroke="none"/>
<path d="M1154.9,7.7H1523.8V342H1154.9ZM1247.2,7.7v8.5M1247.2,342v-8.5M1339.6,7.7v8.5M1339.6,342v-8.5M1431.5,7.7v8.5M1431.5,342v-8.5M1154.9,41h8.5M1523.8,41h-8.5M1154.9,74.35h8.5M1523.8,74.35h-8.5M1154.9,107.7h8.5M1523.8,107.7h-8.5M1154.9,141.05h8.5M1523.8,141.05h-8.5M1154.9,174.4h8.5M1523.8,174.4h-8.5M1154.9,207.75h8.5M1523.8,207.75h-8.5M1154.9,241.1h8.5M1523.8,241.1h-8.5M1154.9,274.45h8.5M1523.8,274.45h-8.5M1154.9,307.8h8.5M1523.8,307.8h-8.5" stroke="#111" stroke-width="1.3" fill="none"/>
<path d="M1151.2,37.2L1158.8,44.8M1151.2,44.8L1158.8,37.2" stroke="#f4e62e" stroke-width="3.0" fill="none"/>
<path d="M1457.8,3.9L1465.4,11.5M1457.8,11.5L1465.4,3.9" stroke="#f4e62e" stroke-width="3.0" fill="none"/>
<text transform="translate(1107.85,14.18) scale(1.1300,1)" font-family='"Liberation Sans", Arial, sans-serif' font-size="16.62">2.28</text>
<text transform="translate(1107.85,47.53) scale(1.1300,1)" font-family='"Liberation Sans", Arial, sans-serif' font-size="16.62">2.27</text>
<text transform="translate(1107.85,80.88) scale(1.1300,1)" font-family='"Liberation Sans", Arial, sans-serif' font-size="16.62">2.26</text>
<text transform="translate(1107.85,114.23) scale(1.1300,1)" font-family='"Liberation Sans", Arial, sans-serif' font-size="16.62">2.25</text>
<text transform="translate(1107.85,147.58) scale(1.1300,1)" font-family='"Liberation Sans", Arial, sans-serif' font-size="16.62">2.24</text>
<text transform="translate(1107.85,180.93) scale(1.1300,1)" font-family='"Liberation Sans", Arial, sans-serif' font-size="16.62">2.23</text>
<text transform="translate(1107.85,214.28) scale(1.1300,1)" font-family='"Liberation Sans", Arial, sans-serif' font-size="16.62">2.22</text>
<text transform="translate(1107.85,247.63) scale(1.1300,1)" font-family='"Liberation Sans", Arial, sans-serif' font-size="16.62">2.21</text>
<text transform="translate(1118.29,280.98) scale(1.1300,1)" font-family='"Liberation Sans", Arial, sans-serif' font-size="16.62">2.2</text>
<text transform="translate(1107.85,314.33) scale(1.1300,1)" font-family='"Liberation Sans", Arial, sans-serif' font-size="16.62">2.19</text>
<text transform="translate(1107.85,347.68) scale(1.1300,1)" font-family='"Liberation Sans", Arial, sans-serif' font-size="16.62">2.18</text>
<text transform="translate(1383.31,328.91) scale(0.9126,1)" font-family='"Liberation Sans", Arial, sans-serif' font-size="29.01" fill="#000" >SINGLET</text>
<text transform="translate(1162.91,327.1) scale(1.0967,1)" font-family='"Liberation Sans", Arial, sans-serif' font-size="23.77" fill="#0e4d30"  stroke="none">Γ</text>
<text transform="translate(1533.63,336.9) scale(1.1500,1)" font-family='"Liberation Sans", Arial, sans-serif' font-size="24.64" fill="#0e4d30"  stroke="none">K</text>
<text transform="translate(1321.9,165.2) scale(1.0053,1)" font-family='"Liberation Sans", Arial, sans-serif' font-size="25.94" fill="#000" >A1+</text>
<text transform="translate(1322.6,198.2) scale(0.9436,1)" font-family='"Liberation Sans", Arial, sans-serif' font-size="24.93" fill="#000" >A2+</text>
<text transform="translate(1333,236.7) scale(0.9923,1)" font-family='"Liberation Sans", Arial, sans-serif' font-size="25.94" fill="#000" >A2-</text>
<text transform="translate(1333.7,262) scale(0.9944,1)" font-family='"Liberation Sans", Arial, sans-serif' font-size="26.09" fill="#000" >A1-</text>
<text transform="translate(1093.5,239.04) rotate(-90) scale(0.9114,1)" font-family='"Liberation Sans", Arial, sans-serif' font-size="33.48" fill="#000">Energy [eV]</text>
<rect x="1152.7" y="492.5" width="6.8" height="9.4" fill="#8db0fe" stroke="none"/>
<rect x="1152.7" y="501.9" width="6.8" height="8.5" fill="#4a63d3" stroke="none"/>
<rect x="1152.7" y="510.4" width="6.8" height="1.7" fill="#b40426" stroke="none"/>
<rect x="1152.7" y="512.1" width="6.8" height="1.4" fill="#3b4cc0" stroke="none"/>
<rect x="1152.7" y="518.1" width="6.8" height="13.4" fill="#b40426" stroke="none"/>
<rect x="1152.7" y="533.9" width="6.8" height="14.1" fill="#3b4cc0" stroke="none"/>
<rect x="1152.7" y="548" width="6.8" height="1.8" fill="#b40426" stroke="none"/>
<rect x="1152.7" y="549.8" width="6.8" height="1.2" fill="#3b4cc0" stroke="none"/>
<rect x="1152.7" y="573.2" width="6.8" height="9" fill="#b40426" stroke="none"/>
<rect x="1152.7" y="655.8" width="6.8" height="9.1" fill="#b40426" stroke="none"/>
<rect x="1306" y="447.1" width="6.9" height="9.8" fill="#3b4cc0" stroke="none"/>
<rect x="1306" y="456.9" width="6.9" height="3.9" fill="#b40426" stroke="none"/>
<rect x="1306" y="460.8" width="6.9" height="3.8" fill="#3b4cc0" stroke="none"/>
<rect x="1306" y="464.6" width="6.9" height="2" fill="#b40426" stroke="none"/>
<rect x="1306" y="466.6" width="6.9" height="7.9" fill="#3b4cc0" stroke="none"/>
<rect x="1306" y="486.5" width="6.9" height="9.9" fill="#3b4cc0" stroke="none"/>
<rect x="1306" y="496.4" width="6.9" height="1.2" fill="#b40426" stroke="none"/>
<rect x="1306" y="497.6" width="6.9" height="10.6" fill="#3b4cc0" stroke="none"/>
<rect x="1306" y="508.2" width="6.9" height="1.2" fill="#b40426" stroke="none"/>
<rect x="1306" y="509.4" width="6.9" height="4.5" fill="#3b4cc0" stroke="none"/>
<rect x="1306" y="513.9" width="6.9" height="4.2" fill="#b40426" stroke="none"/>
<rect x="1306" y="518.1" width="6.9" height="0.9" fill="#3b4cc0" stroke="none"/>
<rect x="1306" y="524.1" width="6.9" height="9.4" fill="#6a8cef" stroke="none"/>
<rect x="1306" y="533.5" width="6.9" height="2.1" fill="#b40426" stroke="none"/>
<rect x="1306" y="606.2" width="6.9" height="9.6" fill="#c5d6f2" stroke="none"/>
<rect x="1306" y="620.1" width="6.9" height="9.7" fill="#b40426" stroke="none"/>
<rect x="1306" y="629.8" width="6.9" height="1.7" fill="#6a8cef" stroke="none"/>
<rect x="1459.4" y="376.2" width="6.8" height="9.7" fill="#b40426" stroke="none"/>
<rect x="1459.4" y="385.9" width="6.8" height="2.1" fill="#3b4cc0" stroke="none"/>
<rect x="1459.4" y="388" width="6.8" height="3.9" fill="#b40426" stroke="none"/>
<rect x="1459.4" y="391.9" width="6.8" height="7.7" fill="#4a63d3" stroke="none"/>
<rect x="1459.4" y="399.6" width="6.8" height="7.7" fill="#3b4cc0" stroke="none"/>
<rect x="1459.4" y="407.3" width="6.8" height="6.3" fill="#b40426" stroke="none"/>
<rect x="1459.4" y="413.6" width="6.8" height="3.9" fill="#3b4cc0" stroke="none"/>
<rect x="1459.4" y="417.5" width="6.8" height="4" fill="#8db0fe" stroke="none"/>
<rect x="1459.4" y="423.5" width="6.8" height="9.4" fill="#3b4cc0" stroke="none"/>
<rect x="1459.4" y="432.9" width="6.8" height="2.6" fill="#b40426" stroke="none"/>
<rect x="1459.4" y="435.5" width="6.8" height="11.1" fill="#4a63d3" stroke="none"/>
<rect x="1459.4" y="449.2" width="6.8" height="8.8" fill="#3b4cc0" stroke="none"/>
<rect x="1459.4" y="458" width="6.8" height="10.8" fill="#4a63d3" stroke="none"/>
<rect x="1459.4" y="472.8" width="6.8" height="19.7" fill="#3b4cc0" stroke="none"/>
<rect x="1459.4" y="492.5" width="6.8" height="11.6" fill="#b40426" stroke="none"/>
<rect x="1459.4" y="504.1" width="6.8" height="9.8" fill="#6a8cef" stroke="none"/>
<rect x="1459.4" y="513.9" width="6.8" height="3.9" fill="#b40426" stroke="none"/>
<rect x="1459.4" y="521.9" width="6.8" height="11.6" fill="#3b4cc0" stroke="none"/>
<rect x="1459.4" y="541.7" width="6.8" height="15.4" fill="#3b4cc0" stroke="none"/>
<rect x="1459.4" y="557.1" width="6.8" height="3.8" fill="#b40426" stroke="none"/>
<rect x="1459.4" y="631.9" width="6.8" height="9.9" fill="#3b4cc0" stroke="none"/>
<path d="M1156,357.6H1525.1V691.8H1156ZM1248.4,357.6v8M1248.4,691.8v-8M1340.6,357.6v8M1340.6,691.8v-8M1432.8,357.6v8M1432.8,691.8v-8M1156,376.82h8M1525.1,376.82h-8M1156,416.26h8M1525.1,416.26h-8M1156,455.7h8M1525.1,455.7h-8M1156,495.14h8M1525.1,495.14h-8M1156,534.58h8M1525.1,534.58h-8M1156,574.02h8M1525.1,574.02h-8M1156,613.46h8M1525.1,613.46h-8M1156,652.9h8M1525.1,652.9h-8" stroke="#111" stroke-width="1.3" fill="none"/>
<text transform="translate(1104.37,383.87) scale(1.0850,1)" font-family='"Liberation Sans", Arial, sans-serif' font-size="20.42">2.34</text>
<text transform="translate(1104.37,423.31) scale(1.0850,1)" font-family='"Liberation Sans", Arial, sans-serif' font-size="20.42">2.32</text>
<text transform="translate(1116.7,462.75) scale(1.0850,1)" font-family='"Liberation Sans", Arial, sans-serif' font-size="20.42">2.3</text>
<text transform="translate(1104.37,502.19) scale(1.0850,1)" font-family='"Liberation Sans", Arial, sans-serif' font-size="20.42">2.28</text>
<text transform="translate(1104.37,541.63) scale(1.0850,1)" font-family='"Liberation Sans", Arial, sans-serif' font-size="20.42">2.26</text>
<text transform="translate(1104.37,581.07) scale(1.0850,1)" font-family='"Liberation Sans", Arial, sans-serif' font-size="20.42">2.24</text>
<text transform="translate(1104.37,620.51) scale(1.0850,1)" font-family='"Liberation Sans", Arial, sans-serif' font-size="20.42">2.22</text>
<text transform="translate(1116.7,659.95) scale(1.0850,1)" font-family='"Liberation Sans", Arial, sans-serif' font-size="20.42">2.2</text>
<text transform="translate(1104.37,699.39) scale(1.0850,1)" font-family='"Liberation Sans", Arial, sans-serif' font-size="20.42">2.18</text>
<text transform="translate(1148.63,717.5) scale(1.1000,1)" font-family='"Liberation Sans", Arial, sans-serif' font-size="17.43">0</text>
<text transform="translate(1227.86,717.5) scale(1.1000,1)" font-family='"Liberation Sans", Arial, sans-serif' font-size="17.43">0.05</text>
<text transform="translate(1324.32,717.5) scale(1.1000,1)" font-family='"Liberation Sans", Arial, sans-serif' font-size="17.43">0.1</text>
<text transform="translate(1412.16,717.5) scale(1.1000,1)" font-family='"Liberation Sans", Arial, sans-serif' font-size="17.43">0.15</text>
<text transform="translate(1509.77,717.5) scale(1.1000,1)" font-family='"Liberation Sans", Arial, sans-serif' font-size="17.43">0.2</text>
<text transform="translate(1382.47,678) scale(0.9112,1)" font-family='"Liberation Sans", Arial, sans-serif' font-size="28.99" fill="#000" >TRIPLET</text>
<text transform="translate(1095.5,604.83) rotate(-90) scale(0.9061,1)" font-family='"Liberation Sans", Arial, sans-serif' font-size="33.48" fill="#000">Energy [eV]</text>
<text transform="translate(270.85,754.6) scale(0.9947,1)" font-family='"Liberation Sans", Arial, sans-serif' font-size="36.42" fill="#000" >q</text>
<text transform="translate(291.36,753.62) scale(1.1500,1)" font-family='"Liberation Sans", Arial, sans-serif' font-size="36.58">[</text>
<text transform="translate(336.18,753.62) scale(1.1500,1)" font-family='"Liberation Sans", Arial, sans-serif' font-size="36.58">]</text>
<text transform="translate(300.4,754) scale(0.8791,1)" font-family='"Liberation Sans", Arial, sans-serif' font-size="29.42">Å</text>
<text transform="translate(318.79,741) scale(0.9826,1)" font-family='"Liberation Serif", "Times New Roman", serif' font-size="17.88" fill="#000" >-1</text>
<text transform="translate(776.4,744.9) scale(1.0341,1)" font-family='"Liberation Sans", Arial, sans-serif' font-size="38.68" fill="#000" >q</text>
<text transform="translate(799.65,743.88) scale(1.1500,1)" font-family='"Liberation Sans", Arial, sans-serif' font-size="39.14">[</text>
<text transform="translate(849.07,743.88) scale(1.1500,1)" font-family='"Liberation Sans", Arial, sans-serif' font-size="39.14">]</text>
<text transform="translate(809.2,744.9) scale(0.8946,1)" font-family='"Liberation Sans", Arial, sans-serif' font-size="32.61">Å</text>
<text transform="translate(829.51,730.8) scale(1.0103,1)" font-family='"Liberation Serif", "Times New Roman", serif' font-size="19.39" fill="#000" >-1</text>
<text transform="translate(1305.15,748.9) scale(1.0196,1)" font-family='"Liberation Sans", Arial, sans-serif' font-size="37.92" fill="#000" >q</text>
<text transform="translate(1327.7,748.01) scale(1.1500,1)" font-family='"Liberation Sans", Arial, sans-serif' font-size="38.50">[</text>
<text transform="translate(1376.42,748.01) scale(1.1500,1)" font-family='"Liberation Sans", Arial, sans-serif' font-size="38.50">]</text>
<text transform="translate(1337.2,748.7) scale(0.9433,1)" font-family='"Liberation Sans", Arial, sans-serif' font-size="30.29">Å</text>
<text transform="translate(1357.33,734.9) scale(0.9825,1)" font-family='"Liberation Serif", "Times New Roman", serif' font-size="19.39" fill="#000" >-1</text>
</g>
</svg></body></html>
